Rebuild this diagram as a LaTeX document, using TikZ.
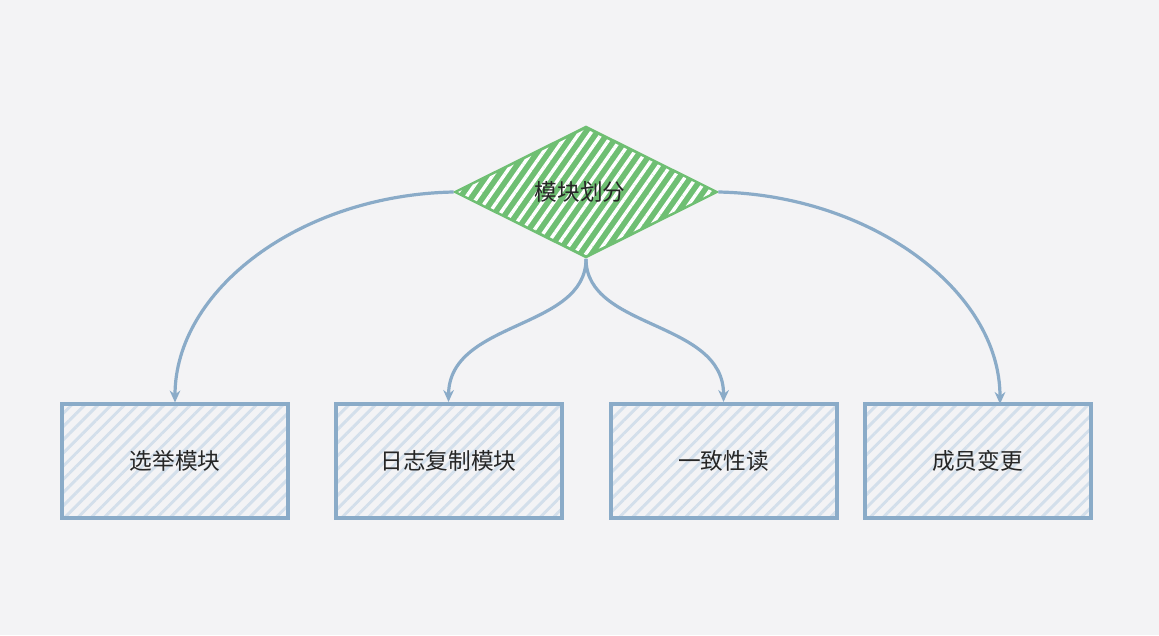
\documentclass[tikz,border=0pt]{standalone}
\usepackage{fontspec}
\setmainfont{Noto Sans CJK SC}
\usetikzlibrary{patterns.meta,arrows.meta,shapes.geometric}
\definecolor{bg}{HTML}{F3F3F5}
\definecolor{bl}{HTML}{8AABC8}
\definecolor{blf}{HTML}{D3DFEB}
\definecolor{gr}{HTML}{6FBF73}
\begin{document}
\begin{tikzpicture}[x=0.75pt,y=-0.75pt,
  box/.style={draw=bl,line width=3pt,minimum width=169.5pt,minimum height=85.5pt,pattern={Lines[angle=45,distance=7pt,line width=2.2pt]},pattern color=blf,font=\fontsize{17}{20}\selectfont,text=black!85},
  con/.style={draw=bl,line width=2.4pt,-{Stealth[length=9pt,width=8pt]}}]
\fill[bg] (0,0) rectangle (1159,635);
\node[diamond,fill=gr,draw=gr,line width=2pt,minimum width=196.5pt,minimum height=98.25pt,inner sep=0pt] (d) at (586,192) {};
\path[pattern={Lines[angle=55,distance=7pt,line width=2.6pt]},pattern color=white] (458,192)--(586,129)--(714,192)--(586,255)--cycle;
\node[font=\fontsize{17}{20}\selectfont,text=black!85] at (580,192) {模块划分};
\node[box] (a) at (175,461) {选举模块};
\node[box] (b) at (448.5,461) {日志复制模块};
\node[box] (c) at (723.5,461) {一致性读};
\node[box] (e) at (977.5,461) {成员变更};
\coordinate (et) at (1000,404);
\draw[con] (d.west) .. controls (300,195) and (175,290) .. (a.north);
\draw[con] (d.east) .. controls (870,195) and (1000,290) .. (et);
\draw[con] (d.south) .. controls (586,330) and (449,320) .. (b.north);
\draw[con] (d.south) .. controls (586,330) and (724,320) .. (c.north);
\end{tikzpicture}
\end{document}
